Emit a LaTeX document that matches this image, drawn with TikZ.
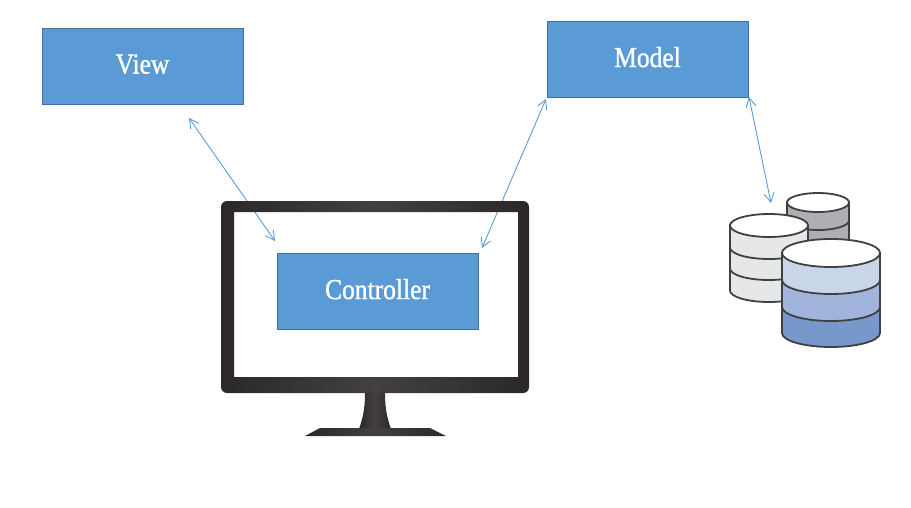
\documentclass[tikz,border=0pt]{standalone}
\usepackage{fontspec}
\setmainfont[FakeStretch=0.88,FakeBold=1]{Liberation Serif}
\usetikzlibrary{arrows.meta,positioning}
\definecolor{boxblue}{HTML}{5B9BD5}
\definecolor{boxline}{HTML}{41719C}
\definecolor{dbline}{HTML}{404040}
\definecolor{dbgrey}{HTML}{AEAFB3}
\definecolor{dblight}{HTML}{E6E7E9}
\definecolor{dba}{HTML}{C9D5E9}
\definecolor{dbb}{HTML}{A1B5DC}
\definecolor{dbc}{HTML}{7897CA}
\definecolor{screendark}{HTML}{2C2829}
\definecolor{screenmid}{HTML}{443F40}

\newcommand{\dbband}[6]{% cx, top, rx, ry, height, fill
  \draw[dbstroke, fill=#6] (#1-#3,#2) -- (#1-#3,#2+#5)
    arc[start angle=180, end angle=0, x radius=#3, y radius=#4]
    -- (#1+#3,#2) -- cycle;
}
\newcommand{\dbtop}[4]{% cx, top, rx, ry
  \draw[dbstroke, fill=white] (#1,#2) ellipse[x radius=#3, y radius=#4];
}

\begin{document}
\begin{tikzpicture}[
  x=1pt, y=-1pt,
  dbstroke/.style={draw=dbline, line width=1.8pt},
  mvcbox/.style={draw=boxline, line width=0.8pt, fill=boxblue, text=white, minimum width=201pt, minimum height=76pt, inner sep=0pt, text depth=4pt, font=\fontsize{29}{32}\selectfont},
  link/.style={{Straight Barb[length=9pt,width=10pt]}-{Straight Barb[length=9pt,width=10pt]}, draw=boxblue, line width=0.9pt},
  monitor/.style={left color=screendark, right color=screendark, middle color=screenmid, draw=none}
]
\useasboundingbox (0,0) rectangle (911,507);

\node[mvcbox] (view) at (142.5,66) {View};
\node[mvcbox] (model) at (647.5,59) {Model};

% free ends of the links
\coordinate (viewend) at (189,118);
\coordinate (ctrlleft) at (275,241);
\coordinate (modelleft) at (546,99);
\coordinate (ctrlright) at (482,248);
\coordinate (modelright) at (749,97);
\coordinate (dbend) at (771,203);

\draw[link] (viewend) -- (ctrlleft);
\draw[link] (modelleft) -- (ctrlright);
\draw[link] (modelright) -- (dbend);

% monitor
\path[monitor] (359,429) .. controls (364,415) and (365,405) .. (365,392)
  -- (385,392) .. controls (385,405) and (386,415) .. (391,429) -- cycle;
\path[monitor] (305,436) -- (320,428) -- (430,428) -- (446,436) -- cycle;
\path[monitor, even odd rule, rounded corners=6pt] (221,201) -- (529,201) -- (529,393) -- (221,393) -- cycle
  [sharp corners] (234,212) -- (518,212) -- (518,377) -- (234,377) -- cycle;

\node[mvcbox] (controller) at (377.5,291) {Controller};

% back stack
\dbband{818}{202.5}{31}{9.5}{45}{dbgrey}
\dbband{818}{202.5}{31}{9.5}{18}{dbgrey}
\dbtop{818}{202.5}{31}{9.5}

% left stack
\dbband{769}{225.5}{39}{11.5}{65}{dblight}
\dbband{769}{225.5}{39}{11.5}{43}{dblight}
\dbband{769}{225.5}{39}{11.5}{22}{dblight}
\dbtop{769}{225.5}{39}{11.5}

% front stack
\dbband{831}{253}{49}{14}{80}{dbc}
\dbband{831}{253}{49}{14}{54}{dbb}
\dbband{831}{253}{49}{14}{27}{dba}
\dbtop{831}{253}{49}{14}

\end{tikzpicture}
\end{document}
